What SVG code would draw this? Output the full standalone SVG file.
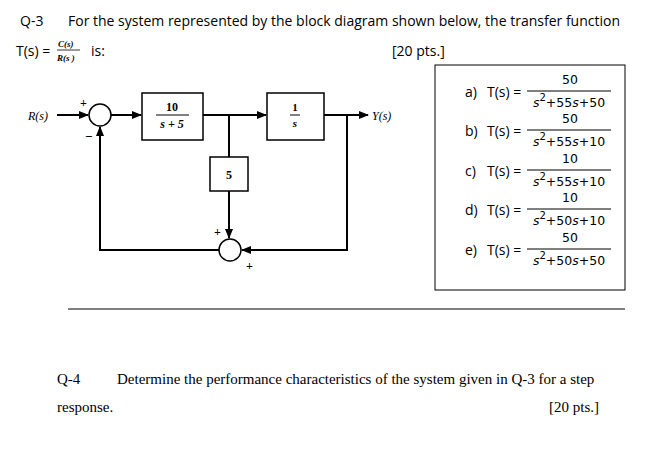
<svg xmlns="http://www.w3.org/2000/svg" width="651" height="453" viewBox="0 0 651 453">
<defs>
<marker id="ar" markerWidth="10" markerHeight="8" refX="9" refY="4" orient="auto" markerUnits="userSpaceOnUse"><path d="M0,0 L10,4 L0,8 z" fill="#000"/></marker>
<style>
.c{font-family:"Open Sans","Liberation Sans",sans-serif;font-size:14px;fill:#000}
.m{font-family:"DejaVu Sans",sans-serif;font-size:12.5px;fill:#000}
.s{font-family:"Liberation Serif",serif;fill:#000}
.ln{stroke:#000;stroke-width:2;fill:none}
.bx{stroke:#000;stroke-width:1.5;fill:#fff}
</style>
</defs>
<rect width="651" height="453" fill="#fff"/>
<text class="c" x="20" y="26">Q-3</text>
<text class="c" x="68" y="26">For the system represented by the block diagram shown below, the transfer function</text>
<text class="c" x="16" y="56">T(s) =</text>
<text class="s" x="58" y="47" font-size="9" font-style="italic" font-weight="bold">C(s)</text>
<line x1="57" y1="50" x2="80" y2="50" stroke="#000" stroke-width="0.8"/>
<text class="s" x="57" y="61" font-size="9" font-style="italic" font-weight="bold">R(s )</text>
<text class="c" x="91" y="56">is:</text>
<text class="c" x="392" y="56">[20 pts.]</text>

<g id="connectors">
<path class="ln" d="M57,115 H88" marker-end="url(#ar)"/>
<path class="ln" d="M111,115 H141" marker-end="url(#ar)"/>
<path class="ln" d="M203,115 H266" marker-end="url(#ar)"/>
<path class="ln" d="M324,115 H368" marker-end="url(#ar)"/>
<path class="ln" d="M229,115 V157"/>
<path class="ln" d="M229,191 V238" marker-end="url(#ar)"/>
<path class="ln" d="M347,115 V250 H242" marker-end="url(#ar)"/>
<path class="ln" d="M219,250 H100 V127" marker-end="url(#ar)"/>
</g>
<g id="sum1"><circle cx="100" cy="115" r="11" class="bx"/></g>
<g id="sum2"><circle cx="230" cy="250" r="11" class="bx"/></g>
<g id="g1"><rect x="142" y="93" width="61" height="47" class="bx"/>
<text class="s" x="172" y="111" font-size="12" font-weight="bold" text-anchor="middle">10</text>
<line x1="156" y1="115" x2="189" y2="115" stroke="#000"/>
<text class="s" x="172" y="128" font-size="12" font-weight="bold" font-style="italic" text-anchor="middle">s + 5</text></g>
<g id="g2"><rect x="267" y="93" width="57" height="47" class="bx"/>
<text class="s" x="295" y="111" font-size="11" font-weight="bold" text-anchor="middle">1</text>
<line x1="290" y1="115" x2="300" y2="115" stroke="#000"/>
<text class="s" x="295" y="127" font-size="11" font-weight="bold" font-style="italic" text-anchor="middle">s</text></g>
<g id="g3"><rect x="210" y="157" width="38" height="34" class="bx"/>
<text class="s" x="229" y="179" font-size="12" font-weight="bold" text-anchor="middle">5</text></g>
<text class="s" x="28" y="120" font-size="12" font-style="italic">R(s)</text>
<text class="s" x="372" y="120" font-size="12" font-style="italic">Y(s)</text>
<text class="s" x="80" y="107" font-size="12" font-weight="bold">+</text>
<text class="s" x="85" y="141" font-size="13" font-weight="bold">−</text>
<text class="s" x="214" y="236" font-size="12" font-weight="bold">+</text>
<text class="s" x="246" y="270" font-size="12" font-weight="bold">+</text>

<g id="options">
<rect x="435" y="65" width="190" height="225" fill="none" stroke="#000" stroke-width="1"/>
<g class="c">
<text x="465" y="97">a)</text><text x="487" y="97">T(s) =</text>
<text x="465" y="136">b)</text><text x="487" y="136">T(s) =</text>
<text x="465" y="176">c)</text><text x="487" y="176">T(s) =</text>
<text x="465" y="215">d)</text><text x="487" y="215">T(s) =</text>
<text x="465" y="255">e)</text><text x="487" y="255">T(s) =</text>
</g>
<g stroke="#000" stroke-width="1">
<line x1="527" y1="91" x2="611" y2="91"/><line x1="527" y1="130" x2="611" y2="130"/><line x1="527" y1="170" x2="611" y2="170"/><line x1="527" y1="209" x2="611" y2="209"/><line x1="527" y1="249" x2="611" y2="249"/>
</g>
<g class="m" text-anchor="middle">
<text x="570" y="84">50</text><text x="569" y="107"><tspan font-style="italic">s</tspan><tspan dy="-6" font-size="10">2</tspan><tspan dy="6">+55</tspan><tspan font-style="italic">s</tspan>+50</text>
<text x="570" y="123">50</text><text x="569" y="146"><tspan font-style="italic">s</tspan><tspan dy="-6" font-size="10">2</tspan><tspan dy="6">+55</tspan><tspan font-style="italic">s</tspan>+10</text>
<text x="570" y="163">10</text><text x="569" y="186"><tspan font-style="italic">s</tspan><tspan dy="-6" font-size="10">2</tspan><tspan dy="6">+55</tspan><tspan font-style="italic">s</tspan>+10</text>
<text x="570" y="202">10</text><text x="569" y="225"><tspan font-style="italic">s</tspan><tspan dy="-6" font-size="10">2</tspan><tspan dy="6">+50</tspan><tspan font-style="italic">s</tspan>+10</text>
<text x="570" y="242">50</text><text x="569" y="265"><tspan font-style="italic">s</tspan><tspan dy="-6" font-size="10">2</tspan><tspan dy="6">+50</tspan><tspan font-style="italic">s</tspan>+50</text>
</g>
</g>
<line x1="68" y1="309" x2="625" y2="309" stroke="#000" stroke-width="1"/>
<text class="s" x="57" y="384" font-size="15">Q-4</text>
<text class="s" x="117" y="384" font-size="15">Determine the performance characteristics of the system given in Q-3 for a step</text>
<text class="s" x="57" y="412" font-size="15">response.</text>
<text class="s" x="549" y="412" font-size="15">[20 pts.]</text>
</svg>
